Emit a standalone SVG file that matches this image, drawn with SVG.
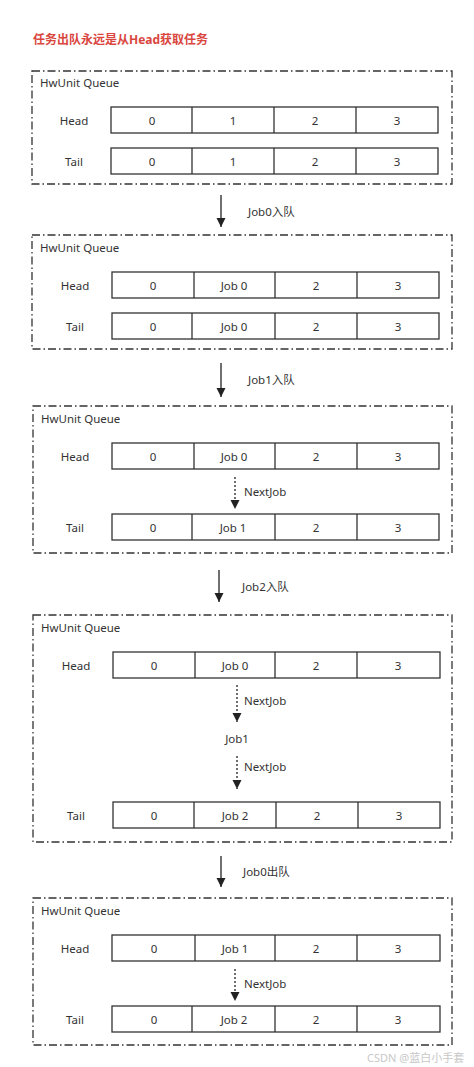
<svg xmlns="http://www.w3.org/2000/svg" width="474" height="1067" viewBox="0 0 474 1067">
<style>
text{font-family:"Noto Sans","Noto Sans CJK SC",sans-serif;font-size:11.5px;fill:#333;dominant-baseline:central}
.c{text-anchor:middle}
.title{font-size:12px;font-weight:bold;fill:#d9463e;dominant-baseline:auto}
.frame{fill:#fff;stroke:#333;stroke-width:1.3;stroke-dasharray:8 3 1.5 3}
.row{fill:#fff;stroke:#333;stroke-width:1.3}
.sep{stroke:#333;stroke-width:1.3}
.arr{stroke:#222;stroke-width:1.3;fill:none;marker-end:url(#ah)}
.darr{stroke:#222;stroke-width:1.3;fill:none;stroke-dasharray:2 2;marker-end:url(#ah)}
.wm{fill:#c8c8c8;font-size:11px}
</style>
<defs>
<marker id="ah" markerUnits="userSpaceOnUse" markerWidth="10" markerHeight="12" refX="9" refY="4.5" orient="auto">
<path d="M0,0 L9,4.5 L0,9 Z" fill="#222"/>
</marker>
</defs>
<rect width="474" height="1067" fill="#fff"/>
<text class="title" x="33" y="44">任务出队永远是从Head获取任务</text>

<g id="queue1">
<rect class="frame" x="32" y="71" width="420" height="113"/>
<text x="40" y="82">HwUnit Queue</text>
<text class="c" x="74" y="120">Head</text>
<rect class="row" x="111" y="107" width="327" height="26"/>
<path class="sep" d="M192 107v26M274 107v26M356 107v26"/>
<text class="c" x="152" y="120">0</text><text class="c" x="233" y="120">1</text><text class="c" x="315" y="120">2</text><text class="c" x="397" y="120">3</text>
<text class="c" x="74" y="161">Tail</text>
<rect class="row" x="111" y="148" width="327" height="26"/>
<path class="sep" d="M192 148v26M274 148v26M356 148v26"/>
<text class="c" x="152" y="161">0</text><text class="c" x="233" y="161">1</text><text class="c" x="315" y="161">2</text><text class="c" x="397" y="161">3</text>
</g>

<g id="queue2">
<rect class="frame" x="32" y="235" width="420" height="114"/>
<text x="40" y="247">HwUnit Queue</text>
<text class="c" x="75" y="285">Head</text>
<rect class="row" x="112" y="272" width="327" height="26"/>
<path class="sep" d="M194 272v26M275 272v26M357 272v26"/>
<text class="c" x="153" y="285">0</text><text class="c" x="234" y="285">Job 0</text><text class="c" x="316" y="285">2</text><text class="c" x="398" y="285">3</text>
<text class="c" x="75" y="326">Tail</text>
<rect class="row" x="112" y="313" width="327" height="26"/>
<path class="sep" d="M192 313v26M275 313v26M357 313v26"/>
<text class="c" x="153" y="326">0</text><text class="c" x="234" y="326">Job 0</text><text class="c" x="316" y="326">2</text><text class="c" x="398" y="326">3</text>
</g>

<g id="queue3">
<rect class="frame" x="33" y="406" width="419" height="147"/>
<text x="41" y="418">HwUnit Queue</text>
<text class="c" x="75" y="456">Head</text>
<rect class="row" x="112" y="443" width="327" height="26"/>
<path class="sep" d="M194 443v26M275 443v26M357 443v26"/>
<text class="c" x="153" y="456">0</text><text class="c" x="234" y="456">Job 0</text><text class="c" x="316" y="456">2</text><text class="c" x="398" y="456">3</text>
<text class="c" x="75" y="527">Tail</text>
<rect class="row" x="112" y="514" width="327" height="26"/>
<path class="sep" d="M192 514v26M275 514v26M357 514v26"/>
<text class="c" x="153" y="527">0</text><text class="c" x="233" y="527">Job 1</text><text class="c" x="316" y="527">2</text><text class="c" x="398" y="527">3</text>
</g>

<g id="queue4">
<rect class="frame" x="33" y="615" width="419" height="227"/>
<text x="41" y="627">HwUnit Queue</text>
<text class="c" x="76" y="665">Head</text>
<rect class="row" x="113" y="652" width="327" height="26"/>
<path class="sep" d="M195 652v26M275 652v26M357 652v26"/>
<text class="c" x="154" y="665">0</text><text class="c" x="235" y="665">Job 0</text><text class="c" x="316" y="665">2</text><text class="c" x="398" y="665">3</text>
<text class="c" x="237" y="738">Job1</text>
<text class="c" x="76" y="815">Tail</text>
<rect class="row" x="113" y="802" width="327" height="26"/>
<path class="sep" d="M194 802v26M276 802v26M358 802v26"/>
<text class="c" x="154" y="815">0</text><text class="c" x="235" y="815">Job 2</text><text class="c" x="317" y="815">2</text><text class="c" x="399" y="815">3</text>
</g>

<g id="queue5">
<rect class="frame" x="33" y="898" width="419" height="147"/>
<text x="41" y="910">HwUnit Queue</text>
<text class="c" x="75" y="948">Head</text>
<rect class="row" x="112" y="935" width="328" height="26"/>
<path class="sep" d="M195 935v26M275 935v26M357 935v26"/>
<text class="c" x="154" y="948">0</text><text class="c" x="235" y="948">Job 1</text><text class="c" x="316" y="948">2</text><text class="c" x="398" y="948">3</text>
<text class="c" x="75" y="1019">Tail</text>
<rect class="row" x="112" y="1006" width="328" height="26"/>
<path class="sep" d="M192 1006v26M275 1006v26M357 1006v26"/>
<text class="c" x="154" y="1019">0</text><text class="c" x="234" y="1019">Job 2</text><text class="c" x="316" y="1019">2</text><text class="c" x="398" y="1019">3</text>
</g>

<g id="connectors">
<line class="arr" x1="221" y1="195" x2="221" y2="227"/>
<text x="248" y="211">Job0入队</text>
<line class="arr" x1="221" y1="363" x2="221" y2="397"/>
<text x="248" y="379">Job1入队</text>
<line class="darr" x1="235" y1="477" x2="235" y2="509"/>
<text x="244" y="491">NextJob</text>
<line class="arr" x1="219" y1="570" x2="219" y2="602"/>
<text x="242" y="586">Job2入队</text>
<line class="darr" x1="237" y1="685" x2="237" y2="722"/>
<text x="244" y="700">NextJob</text>
<line class="darr" x1="237" y1="756" x2="237" y2="789"/>
<text x="244" y="766">NextJob</text>
<line class="arr" x1="221" y1="856" x2="221" y2="887"/>
<text x="243" y="871">Job0出队</text>
<line class="darr" x1="235" y1="969" x2="235" y2="1001"/>
<text x="244" y="983">NextJob</text>
</g>
<text class="wm" x="367" y="1057">CSDN @蓝白小手套</text>
</svg>
